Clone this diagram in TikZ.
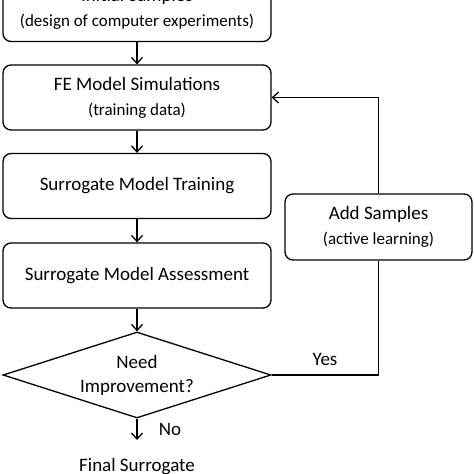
\documentclass[tikz,border=0pt]{standalone}
\usepackage{fontspec}
\setmainfont{Carlito}
\usetikzlibrary{shapes.geometric,arrows.meta}
\newcommand{\subl}[1]{{\fontsize{17}{20}\selectfont #1}}
\begin{document}
\begin{tikzpicture}[x=1pt,y=-1pt,
  every node/.style={font=\fontsize{19}{24}\selectfont, text=black},
  stepbox/.style={draw=black, line width=1.3pt, rounded corners=8pt, minimum width=268pt, minimum height=65pt, align=center, inner sep=0pt},
  decide/.style={draw=black, line width=1.3pt, diamond, aspect=3.1, minimum width=268pt, minimum height=86pt, align=center, inner sep=0pt},
  conn/.style={line width=1.3pt, -{Straight Barb[length=6pt,width=11pt,line width=1.3pt]}},
  plain/.style={line width=1.3pt}]
\useasboundingbox (0,0) rectangle (474,474);
\clip (0,0) rectangle (474,474);
\node[stepbox] (b1) at (137,9) {Initial Samples\\[1pt]\subl{(design of computer experiments)}};
\node[stepbox] (b2) at (137,97.5) {FE Model Simulations\\[1pt]\subl{(training data)}};
\node[stepbox] (b3) at (137,186) {Surrogate Model Training};
\node[stepbox] (b4) at (137,275.5) {Surrogate Model Assessment};
\node[decide] (d) at (137,375) {Need\\Improvement?};
\node[stepbox, minimum width=187pt, minimum height=66pt] (add) at (378.5,227) {Add Samples\\[1pt]\subl{(active learning)}};
\coordinate (nend) at (137,440);
\node (fin) at (137,467) {Final Surrogate};
\node (no) at (170,429) {No};
\node (yes) at (325,359) {Yes};
\draw[conn] (b1) -- (b2);
\draw[conn] (b2) -- (b3);
\draw[conn] (b3) -- (b4);
\draw[conn] (b4) -- (d);
\draw[conn] (d.south) -- (nend);
\draw[plain] (d.east) -| (add.south);
\draw[conn] (add.north) |- (b2.east);
\end{tikzpicture}
\end{document}
